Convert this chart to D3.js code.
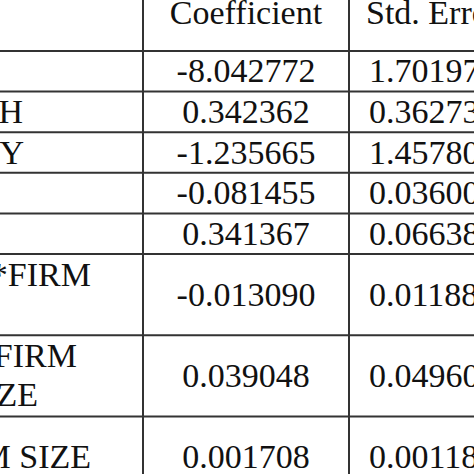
<!DOCTYPE html>
<html><head><meta charset="utf-8">
<script src="https://cdn.jsdelivr.net/npm/d3@7"></script>
<style>body{margin:0;background:#fff}svg{display:block}</style>
</head><body><svg id="c" width="474" height="474"></svg>
<script>
const headers = ["Coefficient", "Std. Error"];
const labels = [["C"], ["GROWTH"], ["PROFITABILITY"], ["LEV"], ["TANG"], ["LEV*FIRM", "SIZE"], ["GROWTH*FIRM", "SIZE"], ["FIRM SIZE"]];
const coefficients = ["-8.042772", "0.342362", "-1.235665", "-0.081455", "0.341367", "-0.013090", "0.039048", "0.001708"];
const stdErrors = ["1.701977", "0.362735", "1.457803", "0.036004", "0.066384", "0.011882", "0.049601", "0.001187"];
const rowHeights = [1, 1, 1, 1, 1, 2, 2, 2];

const svg = d3.select("#c");
const font = "'Liberation Serif','Times New Roman',serif";
const headerBottom = 51, unit = 40.6;
const edges = [headerBottom];
rowHeights.forEach(h => edges.push(edges[edges.length - 1] + h * unit));
const y = i => edges[i];
const cols = [143, 349, 555];
const g = svg.append("g").attr("font-family", font).attr("font-size", 34).attr("fill", "#111");

g.selectAll("line.h").data(edges).join("line")
  .attr("x1", 0).attr("x2", 474).attr("y1", d => d).attr("y2", d => d)
  .attr("stroke", "#333").attr("stroke-width", 2);
g.selectAll("line.v").data(cols.slice(0, 2)).join("line")
  .attr("x1", d => d).attr("x2", d => d).attr("y1", 0).attr("y2", 474)
  .attr("stroke", "#333").attr("stroke-width", 2);

g.selectAll("text.hd").data(headers).join("text")
  .attr("x", (d, i) => i === 0 ? 246 : 366).attr("y", 24)
  .attr("text-anchor", (d, i) => i === 0 ? "middle" : "start").text(d => d);

const mid = i => (y(i) + y(i + 1)) / 2 + 11;
g.selectAll("text.co").data(coefficients).join("text")
  .attr("x", 246).attr("y", (d, i) => mid(i)).attr("text-anchor", "middle").text(d => d);
g.selectAll("text.se").data(stdErrors).join("text")
  .attr("x", 369).attr("y", (d, i) => mid(i)).attr("text-anchor", "start").text(d => d);

const labelEnds = [[-6], [23], [24], [-6], [-6], [91, -20], [77, 38], [91]];
labels.forEach((ls, i) => {
  ls.forEach((t, j) => {
    const yy = ls.length === 1 ? mid(i) : mid(i) + (j === 0 ? -20 : 19);
    g.append("text").attr("x", labelEnds[i][j]).attr("y", yy)
      .attr("text-anchor", "end").text(t);
  });
});
</script></body></html>
